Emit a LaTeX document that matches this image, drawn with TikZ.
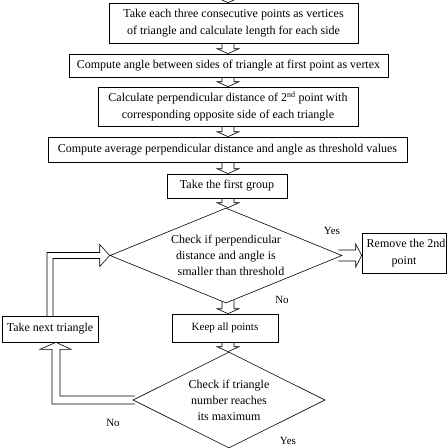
\documentclass[tikz,border=0pt]{standalone}
\usepackage{fontspec}
\setmainfont{Liberation Serif}
\usetikzlibrary{shapes.geometric,calc,backgrounds}
\tikzset{
  box/.style={draw,fill=white,inner sep=0pt,align=center,line width=0.6pt,font=\fontsize{12}{17}\selectfont},
  dia/.style={draw,fill=white,diamond,inner sep=0pt,line width=0.6pt},
  diatext/.style={align=center,inner sep=0pt,font=\fontsize{12}{16}\selectfont},
  lbl/.style={inner sep=0pt,font=\fontsize{11}{12}\selectfont},
  arrowbox/.style={draw,fill=white,line width=0.6pt,line join=miter}
}
\newcommand\hvarr[2]{\draw[arrowbox] let \p1=#1, \p2=#2 in
  (\x1-6pt,\y1+3pt) -- (\x1-6pt,\y2+5pt) -- (\x1-11pt,\y2+5pt) -- (\x1,\y2)
  -- (\x1+11pt,\y2+5pt) -- (\x1+6pt,\y2+5pt) -- (\x1+6pt,\y1+3pt);}
\newcommand\hharr[2]{\draw[arrowbox] let \p1=#1, \p2=#2 in
  (\x1-4pt,\y1+5.5pt) -- (\x2-6pt,\y1+5.5pt) -- (\x2-6pt,\y1+11.5pt) -- (\x2,\y1)
  -- (\x2-6pt,\y1-11.5pt) -- (\x2-6pt,\y1-5.5pt) -- (\x1-4pt,\y1-5.5pt);}
\begin{document}
\begin{tikzpicture}[x=1pt,y=-1pt]
\useasboundingbox (0,0) rectangle (448,448);
\coordinate (ax) at (228,0);
\coordinate (top) at (228,-12);
\node[box,minimum width=249pt,minimum height=40pt] (b1) at (233.5,23)
  {Take each three consecutive points as vertices\\of triangle and calculate length for each side};
\node[box,minimum width=319pt,minimum height=23pt] (b2) at (228.5,65.5)
  {Compute angle between sides of triangle at first point as vertex};
\node[box,minimum width=260pt,minimum height=39pt] (b3) at (228,106.5)
  {Calculate perpendicular distance of 2\textsuperscript{nd} point with\\corresponding opposite side of each triangle};
\node[box,minimum width=359pt,minimum height=25pt] (b4) at (227.5,149.5)
  {Compute average perpendicular distance and angle as threshold values};
\node[box,minimum width=120pt,minimum height=24pt] (b5) at (227,186)
  {Take the first group};
\node[dia,minimum width=232pt,minimum height=95pt,
  label={[diatext]center:{Check if perpendicular\\distance and angle is\\\hspace*{10pt}smaller than threshold}}] (d1) at (226,255.5) {};
\node[box,minimum width=84pt,minimum height=40pt] (rm) at (404,253)
  {\hspace*{4pt}Remove the 2nd\\point};
\node[box,minimum width=96pt,minimum height=26pt] (tn) at (50,329)
  {Take next triangle};
\node[box,minimum width=106pt,minimum height=28pt,font=\fontsize{11}{13}\selectfont] (kp) at (225,328)
  {Keep all points};
\node[dia,minimum width=192pt,minimum height=96pt,
  label={[diatext]center:{Check if triangle\\number reaches\\its maximum}}] (d2) at (229,400) {};
\node[lbl] (y1) at (332,231) {Yes};
\node[lbl] (n1) at (282,300) {No};
\node[lbl] (n2) at (113,423) {No};
\node[lbl] (y2) at (288,441) {Yes};
\begin{pgfonlayer}{background}
\hvarr{(top)}{(b1.north -| ax)}
\hvarr{(b1.south -| ax)}{(b2.north -| ax)}
\hvarr{(b2.south -| ax)}{(b3.north -| ax)}
\hvarr{(b3.south -| ax)}{(b4.north -| ax)}
\hvarr{(b4.south -| ax)}{(b5.north -| ax)}
\hvarr{(b5.south -| ax)}{(d1.north -| ax)}
\hvarr{(d1.south -| ax)}{(kp.north -| ax)}
\hvarr{(kp.south -| ax)}{(d2.north -| ax)}
\hharr{(d1.east)}{(rm.west)}
\draw[arrowbox] let \p1=(tn.north), \p2=(d1.west) in
  (\x1-3pt,\y1-3pt) -- (\x1-3pt,\y2+3pt) -- (\x2-10pt,\y2+3pt) -- (\x2-10pt,\y2+11pt)
  -- (\p2) -- (\x2-10pt,\y2-11pt) -- (\x2-10pt,\y2-3pt) -- (\x1+3pt,\y2-3pt) -- (\x1+3pt,\y1-3pt);
\draw[arrowbox] let \p1=(d2.west), \p2=(tn.south) in
  (\x1+2pt,\y1+4pt) -- (\x2+10pt,\y1+4pt) -- (\x2+10pt,\y2-7pt) -- (\x2+21pt,\y2-7pt)
  -- (\x2+6pt,\y2) -- (\x2-10pt,\y2-7pt) -- (\x2+2pt,\y2-7pt) -- (\x2+2pt,\y1-4pt) -- (\x1+2pt,\y1-4pt);
\end{pgfonlayer}
\end{tikzpicture}
\end{document}
